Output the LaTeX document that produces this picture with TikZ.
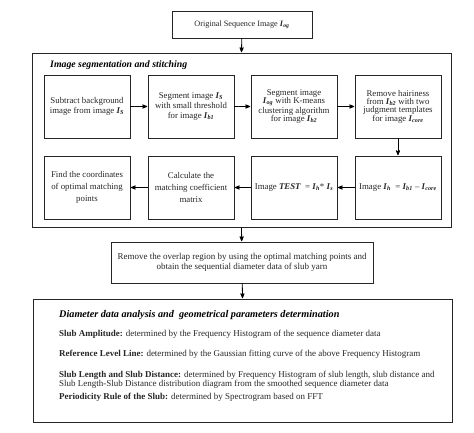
\documentclass[tikz,border=0pt]{standalone}
\usepackage{fontspec}
\setmainfont{Liberation Serif}
\usetikzlibrary{arrows}

% bold italic image symbol with subscript
\newcommand{\imgsym}[1]{\textbf{\textit{I}\textsubscript{\textit{#1}}}}

\begin{document}
\begin{tikzpicture}[x=1pt, y=-1pt, inner sep=1pt]
    \tikzstyle{stepbox}=[rectangle, draw=black!85, semithick, text=black!85, align=center,
        font=\fontsize{8.8}{10}\selectfont, minimum width=86pt, minimum height=63pt]
    \tikzstyle{tight}=[font=\fontsize{8.8}{8.4}\selectfont]
    \tikzstyle{loose}=[font=\fontsize{8.8}{11.7}\selectfont]
    \tikzstyle{frame}=[rectangle, draw=black!85, semithick]
    \tikzstyle{flow}=[->, draw=black, >=stealth', thick, shorten >=0.5pt]
    \tikzstyle{heading}=[anchor=base west, font=\fontsize{10.2}{12}\selectfont\bfseries\itshape]
    \tikzstyle{item}=[anchor=base west, font=\fontsize{9}{10}\selectfont, text=black!85]

    \useasboundingbox (0,0) rectangle (474,433);

    % source image
    \node[frame, minimum width=140pt, minimum height=27pt, font=\fontsize{8.2}{10}\selectfont, text=black!85]
        (orig) at (242,24.5) {Original Sequence Image \imgsym{og}};

    % segmentation and stitching
    \node[frame, minimum width=419pt, minimum height=174pt] (seg) at (241.5,140) {};
    \node[heading, font=\fontsize{9.8}{12}\selectfont\bfseries\itshape] (segtitle) at (49,67.5)
        {Image segmentation and stitching};

    \node[stepbox] (S1) at (87,106.5) {Subtract background\\image from image \imgsym{S}};
    \node[stepbox] (S2) at (191,106.5) {Segment image \imgsym{S}\\with small threshold\\for image \imgsym{b1}};
    \node[stepbox, tight] (S3) at (294,106.5) {Segment image\\\imgsym{og} with K-means\\clustering algorithm\\for image \imgsym{b2}};
    \node[stepbox, tight] (S4) at (398,106.5) {Remove hairiness\\from \imgsym{b2} with two\\judgment templates\\for image \imgsym{core}};

    \node[stepbox] (M4) at (398,187.5) {Image \imgsym{h} \ = \imgsym{b1} -- \imgsym{core}};
    \node[stepbox] (M3) at (294,187.5) {Image \textbf{\textit{TEST}} \ = \imgsym{h}* \imgsym{s}};
    \node[stepbox, loose] (M2) at (191,187.5) {Calculate the\\matching coefficient\\matrix};
    \node[stepbox, loose] (M1) at (87,187.5) {Find the coordinates\\of optimal matching\\points};

    % overlap removal
    \node[frame, minimum width=262pt, minimum height=41pt, align=center, text=black!85,
        font=\fontsize{9}{10.5}\selectfont] (overlap) at (242,262.5)
        {Remove the overlap region by using the optimal matching points and\\
         obtain the sequential diameter data of slub yarn};

    % analysis
    \node[frame, minimum width=419pt, minimum height=123pt] (ana) at (242.5,360.5) {};
    \node[heading] (anatitle) at (58,317) {Diameter data analysis and \ geometrical parameters determination};
    \node[item] (amp) at (58,336) {\textbf{Slub Amplitude:} determined by the Frequency Histogram of the sequence diameter data};
    \node[item] (ref) at (58,356) {\textbf{Reference Level Line:} determined by the Gaussian fitting curve of the above Frequency Histogram};
    \node[item] (len) at (58,377.5) {\textbf{Slub Length and Slub Distance:} determined by Frequency Histogram of slub length, slub distance and};
    \node[item] (len2) at (58,386.5) {Slub Length-Slub Distance distribution diagram from the smoothed sequence diameter data};
    \node[item] (per) at (58,399.5) {\textbf{Periodicity Rule of the Slub:} determined by Spectrogram based on FFT};

    \draw[flow] (orig) to (seg.north);
    \draw[flow] (S1) to (S2);
    \draw[flow] (S2) to (S3);
    \draw[flow] (S3) to (S4);
    \draw[flow] (S4) to (M4);
    \draw[flow] (M4) to (M3);
    \draw[flow] (M3) to (M2);
    \draw[flow] (M2) to (M1);
    \draw[flow] (seg.south) to (overlap);
    \draw[flow] (overlap) to (ana.north);
\end{tikzpicture}
\end{document}
